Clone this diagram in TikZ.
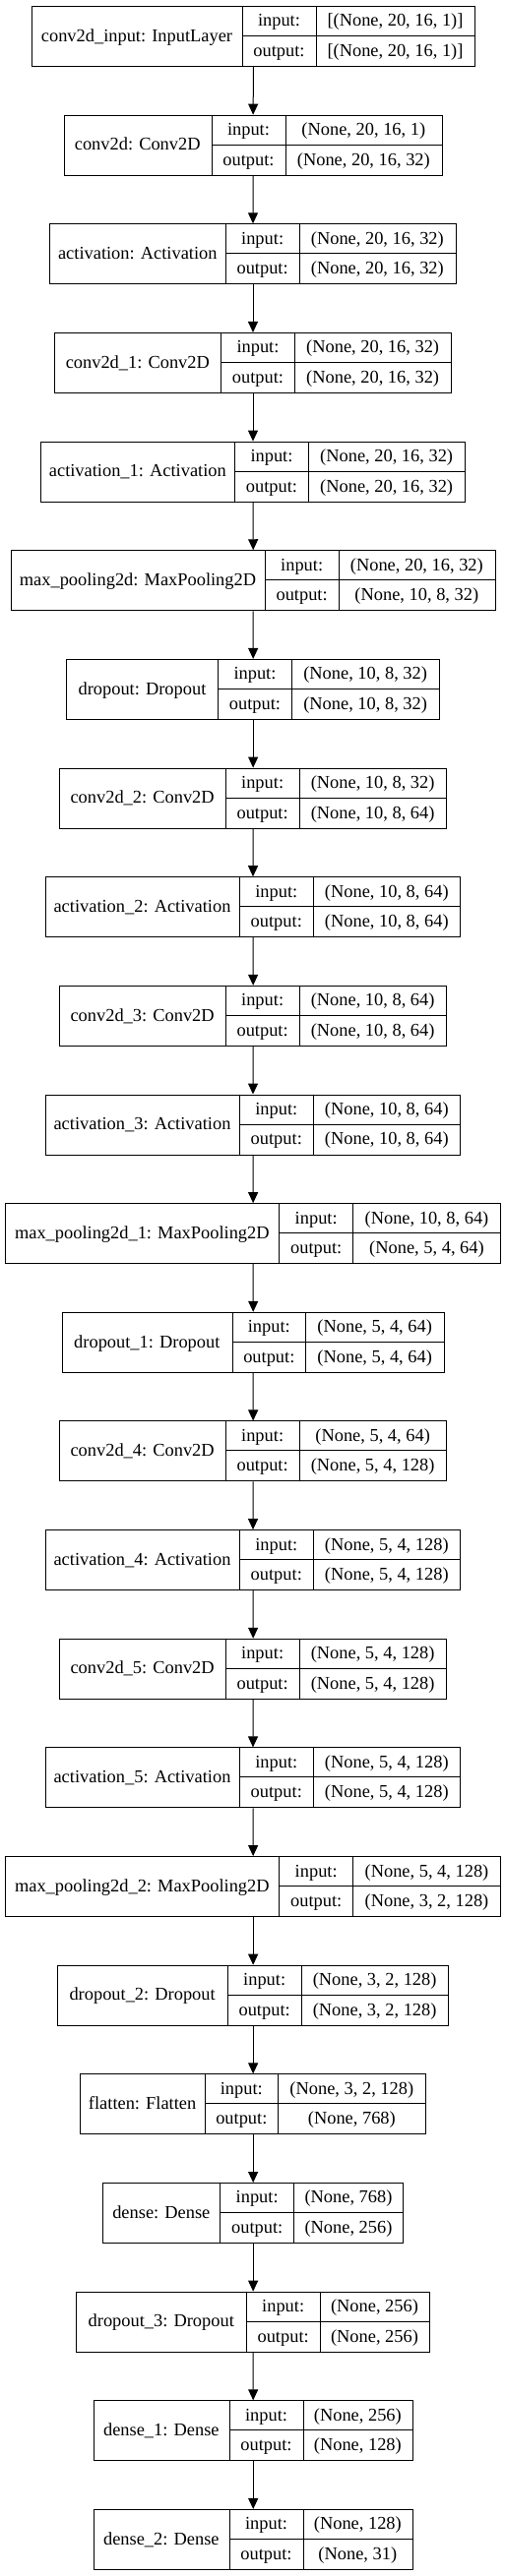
\documentclass[tikz,border=0pt]{standalone}
\usepackage{fontspec}
\setmainfont{Liberation Serif}
\usetikzlibrary{arrows.meta}
\tikzset{
  lbox/.style={draw=black, line width=1pt, inner sep=0pt, minimum height=61pt},
  cell/.style={draw=black, line width=1pt},
  txt/.style={inner sep=0pt, anchor=base, font=\fontsize{18.4}{22}\selectfont},
  arr/.style={draw=black, line width=1pt, -{Triangle[length=11pt,width=10pt]}}
}
% #1 index, #2 x0, #3 x1, #4 x2, #5 x3, #6 label, #7 input, #8 output
\newcommand\kerasLayer[8]{%
  \pgfmathsetmacro\kTop{6+#1*110.65}%
  \pgfmathsetmacro\kBot{\kTop+61}%
  \pgfmathsetmacro\kMid{\kTop+30.5}%
  \pgfmathsetmacro\kWide{#5-#2}%
  \node[lbox, minimum width=\kWide pt, anchor=north west] (L#1) at (#2,\kTop) {};
  \draw[cell] (#3,\kTop) -- (#3,\kBot) (#3,\kMid) -- (#5,\kMid) (#4,\kTop) -- (#4,\kBot);
  \node[txt] (T#1) at ({(#2+#3)/2},\kMid+5.7) {#6};
  \node[txt] (I#1) at ({(#3+#4)/2},\kTop+15.25+5.7) {input:};
  \node[txt] (O#1) at ({(#3+#4)/2},\kTop+45.75+5.7) {output:};
  \node[txt] (IV#1) at ({(#4+#5)/2},\kTop+15.25+5.7) {#7};
  \node[txt] (OV#1) at ({(#4+#5)/2},\kTop+45.75+5.7) {#8};
}
\begin{document}
\begin{tikzpicture}[x=1pt,y=-1pt]
\useasboundingbox[fill=white] (0,0) rectangle (513,2619);
\kerasLayer{0}{32}{246}{321}{482}{conv2d\_input: InputLayer}{[(None, 20, 16, 1)]}{[(None, 20, 16, 1)]}
\kerasLayer{1}{64.5}{215}{290}{448.7}{conv2d: Conv2D}{(None, 20, 16, 1)}{(None, 20, 16, 32)}
\kerasLayer{2}{50.3}{229.3}{304}{462.7}{activation: Activation}{(None, 20, 16, 32)}{(None, 20, 16, 32)}
\kerasLayer{3}{55}{224.7}{299.3}{458}{conv2d\_1: Conv2D}{(None, 20, 16, 32)}{(None, 20, 16, 32)}
\kerasLayer{4}{41}{238.7}{313.3}{472}{activation\_1: Activation}{(None, 20, 16, 32)}{(None, 20, 16, 32)}
\kerasLayer{5}{10.7}{269.3}{344}{502.7}{max\_pooling2d: MaxPooling2D}{(None, 20, 16, 32)}{(None, 10, 8, 32)}
\kerasLayer{6}{67.3}{221.7}{296.3}{446}{dropout: Dropout}{(None, 10, 8, 32)}{(None, 10, 8, 32)}
\kerasLayer{7}{60}{229.3}{304}{453.3}{conv2d\_2: Conv2D}{(None, 10, 8, 32)}{(None, 10, 8, 64)}
\kerasLayer{8}{45.7}{243.3}{318.3}{467.3}{activation\_2: Activation}{(None, 10, 8, 64)}{(None, 10, 8, 64)}
\kerasLayer{9}{60}{229.3}{304}{453.3}{conv2d\_3: Conv2D}{(None, 10, 8, 64)}{(None, 10, 8, 64)}
\kerasLayer{10}{45.7}{243.3}{318.3}{467.3}{activation\_3: Activation}{(None, 10, 8, 64)}{(None, 10, 8, 64)}
\kerasLayer{11}{5}{283.7}{358.7}{508.3}{max\_pooling2d\_1: MaxPooling2D}{(None, 10, 8, 64)}{(None, 5, 4, 64)}
\kerasLayer{12}{62.7}{236}{310.7}{450.7}{dropout\_1: Dropout}{(None, 5, 4, 64)}{(None, 5, 4, 64)}
\kerasLayer{13}{60}{229.3}{304}{453.3}{conv2d\_4: Conv2D}{(None, 5, 4, 64)}{(None, 5, 4, 128)}
\kerasLayer{14}{45.7}{243.3}{318.3}{467.3}{activation\_4: Activation}{(None, 5, 4, 128)}{(None, 5, 4, 128)}
\kerasLayer{15}{60}{229.3}{304}{453.3}{conv2d\_5: Conv2D}{(None, 5, 4, 128)}{(None, 5, 4, 128)}
\kerasLayer{16}{45.7}{243.3}{318.3}{467.3}{activation\_5: Activation}{(None, 5, 4, 128)}{(None, 5, 4, 128)}
\kerasLayer{17}{5}{283.7}{358.7}{508.3}{max\_pooling2d\_2: MaxPooling2D}{(None, 5, 4, 128)}{(None, 3, 2, 128)}
\kerasLayer{18}{58}{231.3}{306}{455.3}{dropout\_2: Dropout}{(None, 3, 2, 128)}{(None, 3, 2, 128)}
\kerasLayer{19}{81.3}{208}{282.7}{432}{flatten: Flatten}{(None, 3, 2, 128)}{(None, 768)}
\kerasLayer{20}{104}{223.7}{298.7}{409.3}{dense: Dense}{(None, 768)}{(None, 256)}
\kerasLayer{21}{77.3}{250.3}{325}{436}{dropout\_3: Dropout}{(None, 256)}{(None, 256)}
\kerasLayer{22}{94.7}{233}{308}{418.7}{dense\_1: Dense}{(None, 256)}{(None, 128)}
\kerasLayer{23}{94.7}{233}{308}{418.7}{dense\_2: Dense}{(None, 128)}{(None, 31)}
\foreach \i [evaluate=\i as \j using int(\i+1)] in {0,...,22}
  \draw[arr] (L\i.south) -- (L\j.north);
\end{tikzpicture}
\end{document}
